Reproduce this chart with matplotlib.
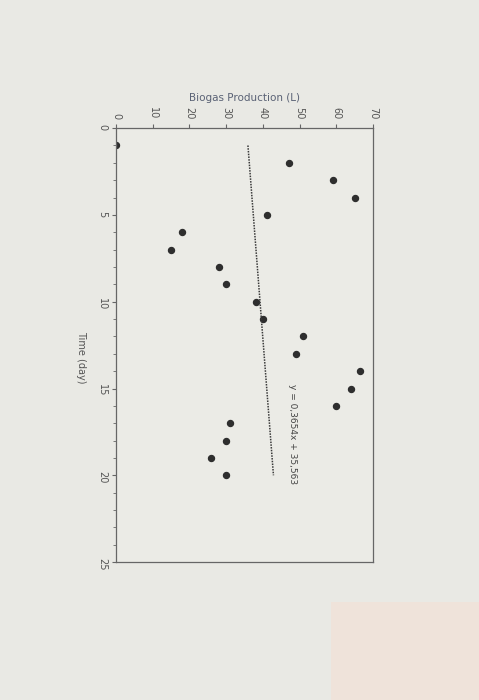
import matplotlib.pyplot as plt
from matplotlib.patches import Rectangle

days = [1, 2, 3, 4, 5, 6, 7, 8, 9, 10, 11, 12, 13, 14, 15, 16, 17, 18, 19, 20]
biogas = [0, 47, 59, 65, 41, 18, 15, 28, 30, 38, 40, 51, 49, 66.5, 64, 60, 31, 30, 26, 30]

# trend line from the printed equation
slope = 0.3654
intercept = 35.563
trend_days = [1, 20]

time_ticks = [0, 5, 10, 15, 20, 25]
biogas_ticks = [0, 10, 20, 30, 40, 50, 60, 70]

fig = plt.figure(figsize=(4.79, 7.0), dpi=100)
fig.patch.set_facecolor("#e9e9e4")
fig.patches.append(Rectangle((0.69, 0.0), 0.31, 0.14, transform=fig.transFigure,
                             facecolor="#efe3da", edgecolor="none", zorder=0))

# chart photographed turned a quarter: time runs down, biogas runs right
ax = fig.add_axes([0.242, 0.197, 0.537, 0.62])
ax.set_facecolor("#ebebe6")

ax.plot(biogas, days, "o", color="#2e2e2e", markersize=4.3)
trend = [slope * d + intercept for d in trend_days]
ax.plot(trend, trend_days, linestyle=(0, (1, 0.8)), color="#3a3a3a", linewidth=1.1)

ax.set_xlim(0, 70)
ax.set_ylim(25, 0)
ax.set_xticks(biogas_ticks)
ax.set_yticks(time_ticks)
ax.set_yticks(range(0, 26), minor=True)
ax.xaxis.tick_top()
ax.tick_params(axis="both", labelsize=7, colors="#666666", labelcolor="#555555",
               length=3, direction="out")
ax.tick_params(axis="y", which="minor", length=2, colors="#666666")
for lab in ax.get_xticklabels() + ax.get_yticklabels():
    lab.set_rotation(-90)

for s in ax.spines.values():
    s.set_color("#666666")
    s.set_linewidth(0.9)

ax.set_xlabel("Biogas Production (L)", fontsize=7.5, color="#5a6275", labelpad=4)
ax.xaxis.set_label_position("top")
ax.text(-9.5, 13.2, "Time (day)", rotation=-90, fontsize=7, color="#555555",
        ha="center", va="center")
ax.text(48, 17.6, "y = 0,3654x + 35,563", rotation=-90, fontsize=6.5,
        color="#444444", ha="center", va="center")

fig.savefig("out.png", dpi=100, facecolor=fig.get_facecolor())
